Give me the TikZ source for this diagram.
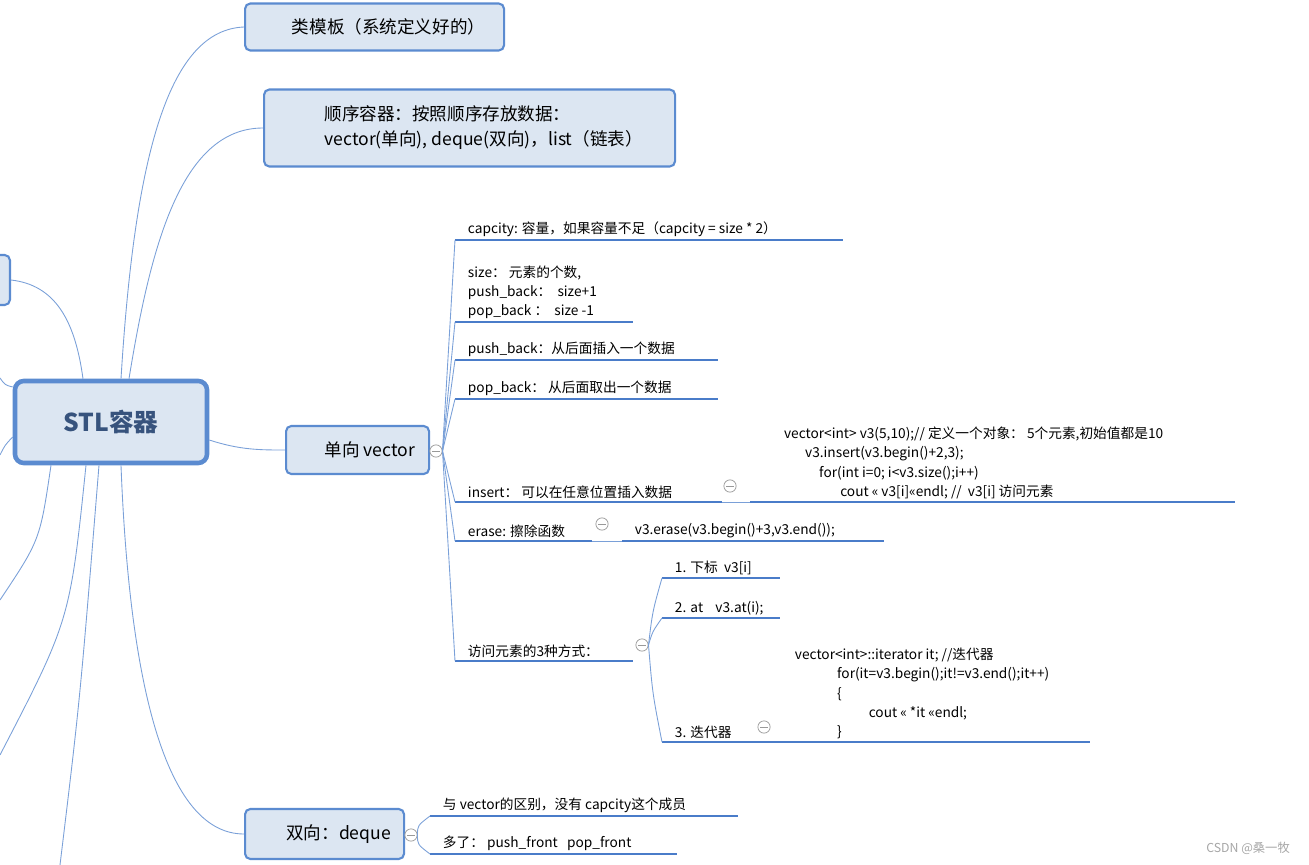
\documentclass[tikz,border=0pt]{standalone}
\usepackage{fontspec}
\setmainfont{Noto Sans CJK SC}
\usetikzlibrary{calc}
\definecolor{boxfill}{HTML}{DCE6F2}
\definecolor{boxline}{HTML}{5B8BD0}
\definecolor{leafline}{HTML}{4A7CC9}
\definecolor{branch}{HTML}{7AA0D8}
\tikzset{
  topic/.style={draw=boxline,fill=boxfill,rounded corners=3pt,line width=1.2pt,anchor=north west,inner sep=0pt,font=\fontsize{10}{14}\selectfont,align=left},
  leaf/.style={anchor=south west,inner sep=1.5pt,font=\fontsize{7.8}{11}\selectfont,align=left},
  uline/.style={draw=leafline,line width=1.3pt},
  conn/.style={draw=branch,line width=0.5pt},
  fold/.style={draw=gray!80,circle,fill=white,inner sep=0pt,minimum size=7pt,line width=0.4pt,
    path picture={\draw[gray!80,line width=0.4pt] ([xshift=-2pt]path picture bounding box.center)--([xshift=2pt]path picture bounding box.center);}}
}
% leaf: name, x, y, end x, text
\newcommand{\leafnode}[5]{%
  \coordinate (#1-w) at (#2,#3);
  \coordinate (#1-e) at (#4,#3);
  \node[leaf] (#1) at (#2+10,#3) {#5};
  \draw[uline] (#1-w) -- (#1-e);
}
\begin{document}
\begin{tikzpicture}[x=0.02cm,y=-0.02cm]
\useasboundingbox (0,0) rectangle (1309,865);

% main boxes
\node[topic,minimum width=192*0.02cm,minimum height=82*0.02cm,line width=2.6pt,rounded corners=5pt,align=center,anchor=center,
  font=\fontsize{14}{16}\selectfont\bfseries,text=boxline!60!black] (root) at (111,422) {STL容器};
\node[topic,minimum width=259*0.02cm,minimum height=47*0.02cm,anchor=west] (tmpl) at (244,27) {\hspace{16pt}类模板（系统定义好的）};
\node[topic,minimum width=411*0.02cm,minimum height=77*0.02cm,anchor=west] (seq) at (263,128)
  {\hspace{16pt}\begin{tabular}{@{}l@{}}顺序容器：按照顺序存放数据：\\vector(单向), deque(双向)，list（链表）\end{tabular}};
\node[topic,minimum width=143*0.02cm,minimum height=48*0.02cm,anchor=west] (vec) at (285,450) {\hspace{14pt}单向 vector};
\node[topic,minimum width=159*0.02cm,minimum height=50*0.02cm,anchor=west] (deq) at (244,834) {\hspace{16pt}双向：deque};
\node[topic,minimum width=20*0.02cm,minimum height=50*0.02cm,anchor=east] (part) at (11,280) {};

% root connectors
\draw[conn] (root.north) ++(-28,0) .. controls (75,320) and (55,285) .. (part.east);
\draw[conn] (root.north) ++(10,0) .. controls (135,150) and (170,30) .. (tmpl.west);
\draw[conn] (root.north) ++(18,0) .. controls (150,250) and (180,128) .. (seq.west);
\draw[conn] (root.east) ++(0,18) .. controls (240,450) and (260,450) .. (vec.west);
\draw[conn] (root.south) ++(10,0) .. controls (130,700) and (170,834) .. (deq.west);
\draw[conn] (root.west) ++(0,-35) .. controls (5,385) .. (0,378);
\draw[conn] (root.west) ++(0,15) .. controls (5,445) .. (0,455);
\draw[conn] (root.south) ++(-60,0) .. controls (40,540) .. (0,600);
\draw[conn] (root.south) ++(-25,0) .. controls (70,620) .. (0,755);
\draw[conn] (root.south) ++(-12,0) .. controls (80,700) .. (60,865);

% vector branch
\node[fold] (fv) at (436,451) {};
\leafnode{cap}{455}{240}{843}{capcity: 容量，如果容量不足（capcity = size * 2）}
\leafnode{size}{455}{322}{633}{size： 元素的个数,\\push\_back：\ \ size+1\\pop\_back ：\ \ size -1}
\leafnode{push}{455}{360}{718}{push\_back：从后面插入一个数据}
\leafnode{pop}{455}{399}{718}{pop\_back：\ 从后面取出一个数据}
\leafnode{ins}{455}{502}{722}{insert：\ 可以在任意位置插入数据}
\leafnode{era}{455}{541}{592}{erase: 擦除函数}
\leafnode{acc}{455}{661}{633}{访问元素的3种方式：}
\foreach \t in {cap,size,push,pop,ins,era,acc}
  \draw[conn] (fv.east) .. controls ($(fv.east)!0.5!(fv.east |- \t-w)+(6,0)$) .. (\t-w);

% insert detail
\node[fold] (fi) at (730,486) {};
\leafnode{insc}{750}{502}{1235}{\hspace{12pt}vector<int> v3(5,10);// 定义一个对象： 5个元素,初始值都是10\\\hspace{24pt}v3.insert(v3.begin()+2,3);\\\hspace{32pt}for(int i=0; i<v3.size();i++)\\\hspace{44pt}cout << v3[i]<<endl; //\ \ v3[i] 访问元素}
\draw[conn] (ins-e) -- (insc-w);
% erase detail
\node[fold] (fe) at (602,524) {};
\leafnode{erac}{622}{541}{884}{v3.erase(v3.begin()+3,v3.end());}
\draw[conn] (era-e) -- (erac-w);

% access ways
\node[fold] (fa) at (642,645) {};
\leafnode{idx}{662}{578}{780}{1. 下标\ \ v3[i]}
\leafnode{at}{662}{618}{780}{2. at\ \ \ \ v3.at(i);}
\leafnode{itr}{662}{742}{782}{3. 迭代器}
\foreach \t in {idx,at,itr}
  \draw[conn] (fa.east) .. controls ($(fa.east)!0.5!(fa.east |- \t-w)+(4,0)$) .. (\t-w);
\node[fold] (ft) at (764,727) {};
\leafnode{itrc}{782}{742}{1090}{vector<int>::iterator it; //迭代器\\\hspace{24pt}for(it=v3.begin();it!=v3.end();it++)\\\hspace{24pt}\{\\\hspace{42pt}cout << *it <<endl;\\\hspace{24pt}\}}
\draw[conn] (itr-e) -- (itrc-w);

% deque branch
\node[fold] (fd) at (411,835) {};
\leafnode{diff}{430}{816}{738}{与 vector的区别，没有 capcity这个成员}
\leafnode{more}{430}{854}{677}{多了：\ push\_front\ \ \ pop\_front}
\foreach \t in {diff,more}
  \draw[conn] (fd.east) .. controls ($(fd.east)!0.5!(fd.east |- \t-w)$) .. (\t-w);

\node[anchor=east,text=gray!70,font=\fontsize{7}{8}\selectfont] (mark) at (1296,848) {CSDN @桑一牧};
\end{tikzpicture}
\end{document}
